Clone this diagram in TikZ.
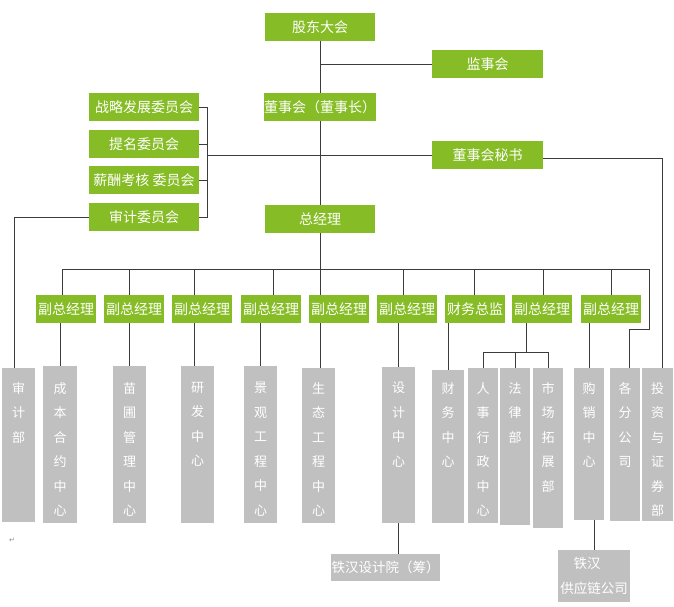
\documentclass[tikz,border=0pt]{standalone}
\usepackage{fontspec}
\setmainfont{Noto Sans CJK SC}
\newfontfamily\symfont{DejaVu Sans}
\usetikzlibrary{calc}
\definecolor{boxgreen}{HTML}{86BC25}
\definecolor{boxgray}{HTML}{C0C0C0}
\definecolor{linegray}{HTML}{3C3C3C}
\begin{document}
\begin{tikzpicture}[x=1pt,y=-1pt,
  gbox/.style={fill=boxgreen, text=white, inner sep=0pt, minimum height=28pt, font=\fontsize{14}{16}\selectfont},
  graybox/.style={fill=boxgray, inner sep=0pt, anchor=north west},
  vtext/.style={anchor=north, align=center, text=white, inner sep=0pt, font=\fontsize{13}{24.5}\selectfont},
  conn/.style={draw=linegray, line width=0.9pt}]
\useasboundingbox (0,0) rectangle (674,607);
\fill[white] (0,0) rectangle (674,607);

% top level green boxes
\node[gbox, minimum width=110pt] (gd) at (320,27) {股东大会};
\node[gbox, minimum width=111pt] (js) at (487.5,64) {监事会};
\node[gbox, minimum width=110pt] (dsh) at (320,107) {董事会（董事长）};
\node[gbox, minimum width=110pt] (c1) at (144,107) {战略发展委员会};
\node[gbox, minimum width=110pt] (c2) at (144,144) {提名委员会};
\node[gbox, minimum width=110pt] (c3) at (144,180) {薪酬考核 委员会};
\node[gbox, minimum width=110pt] (c4) at (144,217) {审计委员会};
\node[gbox, minimum width=111pt] (ms) at (487.5,155) {董事会秘书};
\node[gbox, minimum width=110pt] (zjl) at (320,219) {总经理};

% vice presidents
\node[gbox, minimum width=60pt] (vp1) at (66,309) {副总经理};
\node[gbox, minimum width=60pt] (vp2) at (134,309) {副总经理};
\node[gbox, minimum width=60pt] (vp3) at (202,309) {副总经理};
\node[gbox, minimum width=60pt] (vp4) at (271,309) {副总经理};
\node[gbox, minimum width=60pt] (vp5) at (339,309) {副总经理};
\node[gbox, minimum width=60pt] (vp6) at (407,309) {副总经理};
\node[gbox, minimum width=60pt] (vp7) at (475,309) {财务总监};
\node[gbox, minimum width=60pt] (vp8) at (542,309) {副总经理};
\node[gbox, minimum width=60pt] (vp9) at (611,309) {副总经理};

% gray departments
\node[graybox, minimum width=33pt, minimum height=154pt] (sjb) at (2,368) {};
\node[graybox, minimum width=34pt, minimum height=157pt] (cb) at (43,366) {};
\node[graybox, minimum width=33pt, minimum height=157pt] (mp) at (113,366) {};
\node[graybox, minimum width=33pt, minimum height=157pt] (yf) at (181,366) {};
\node[graybox, minimum width=33pt, minimum height=157pt] (jg) at (244,366) {};
\node[graybox, minimum width=33pt, minimum height=155pt] (st) at (302,368) {};
\node[graybox, minimum width=33pt, minimum height=156pt] (sj) at (382,367) {};
\node[graybox, minimum width=32pt, minimum height=153pt] (cw) at (432,370) {};
\node[graybox, minimum width=30pt, minimum height=155pt] (rs) at (468,368) {};
\node[graybox, minimum width=30pt, minimum height=157pt] (fl) at (500,368) {};
\node[graybox, minimum width=30pt, minimum height=160pt] (sc) at (533,368) {};
\node[graybox, minimum width=30pt, minimum height=152pt] (gx) at (574,368) {};
\node[graybox, minimum width=30pt, minimum height=153pt] (fg) at (610,368) {};
\node[graybox, minimum width=31pt, minimum height=153pt] (tz) at (642,368) {};

\node[vtext] (sjbt) at ($(sjb.north)+(0,14)$) {审\\计\\部};
\node[vtext] (cbt) at ($(cb.north)+(0,16)$) {成\\本\\合\\约\\中\\心};
\node[vtext] (mpt) at ($(mp.north)+(0,16)$) {苗\\圃\\管\\理\\中\\心};
\node[vtext] (yft) at ($(yf.north)+(0,16)$) {研\\发\\中\\心};
\node[vtext] (jgt) at ($(jg.north)+(0,16)$) {景\\观\\工\\程\\中\\心};
\node[vtext] (stt) at ($(st.north)+(0,14)$) {生\\态\\工\\程\\中\\心};
\node[vtext] (sjt) at ($(sj.north)+(0,15)$) {设\\计\\中\\心};
\node[vtext] (cwt) at ($(cw.north)+(0,12)$) {财\\务\\中\\心};
\node[vtext] (rst) at ($(rs.north)+(0,14)$) {人\\事\\行\\政\\中\\心};
\node[vtext] (flt) at ($(fl.north)+(0,14)$) {法\\律\\部};
\node[vtext] (sct) at ($(sc.north)+(0,14)$) {市\\场\\拓\\展\\部};
\node[vtext] (gxt) at ($(gx.north)+(0,14)$) {购\\销\\中\\心};
\node[vtext] (fgt) at ($(fg.north)+(0,14)$) {各\\分\\公\\司};
\node[vtext] (tzt) at ($(tz.north)+(0,14)$) {投\\资\\与\\证\\券\\部};

% subsidiaries
\node[fill=boxgray, text=white, inner sep=0pt, minimum width=109pt, minimum height=27pt,
      font=\fontsize{13.5}{16}\selectfont] (ty1) at (385.5,567.5) {铁汉设计院（筹）};
\node[fill=boxgray, text=white, inner sep=0pt, minimum width=72pt, minimum height=52pt, align=center,
      font=\fontsize{13.5}{25}\selectfont] (ty2) at (594,576) {铁汉\hspace*{14pt}\\供应链公司};

\node[text=black!45, inner sep=0pt, font=\symfont\fontsize{7}{8}\selectfont] (mark) at (12,540) {↵};

% coordinates
\coordinate (bus) at (0,269);
\coordinate (brx) at (207,155);
\coordinate (sjx) at (14,0);
\coordinate (msr) at (662,158);
\coordinate (bend) at (649,329);
\coordinate (fgx) at (629,0);
\coordinate (b8) at (526,352);
\coordinate (d1) at (62,269);
\coordinate (d2) at (129,269);
\coordinate (d3) at (194,269);
\coordinate (d4) at (273,269);
\coordinate (d6) at (403,269);
\coordinate (d7) at (474,269);
\coordinate (d8) at (543,269);
\coordinate (d9) at (611,269);

% trunk
\draw[conn] (gd.south) -- (dsh.north);
\draw[conn] (dsh.south) -- (zjl.north);
\draw[conn] (zjl.south) -- (zjl.south |- vp5.north);
\draw[conn] (zjl.south |- vp5.south) -- (zjl.south |- st.north);
\draw[conn] (gd.south |- js.west) -- (js.west);

% committees bracket
\draw[conn] (c1.east) -- (c1.east -| brx) -- (c4.east -| brx) -- (c4.east);
\draw[conn] (c2.east) -- (c2.east -| brx);
\draw[conn] (c3.east) -- (c3.east -| brx);
\draw[conn] (brx) -- (ms.west);
\draw[conn] ([yshift=-3pt]ms.east) -- (msr) -- (msr |- tz.north);
\draw[conn] (c4.west) -- (c4.west -| sjx) -- (sjx |- sjb.north);

% bus
\draw[conn] (d1) -- (d1 -| bend) -- (bend) -- (bend -| fgx) -- (fgx |- fg.north);
\draw[conn] (d1) -- (d1 |- vp1.north);
\draw[conn] (d2) -- (d2 |- vp2.north);
\draw[conn] (d3) -- (d3 |- vp3.north);
\draw[conn] (d4) -- (d4 |- vp4.north);
\draw[conn] (d6) -- (d6 |- vp6.north);
\draw[conn] (d7) -- (d7 |- vp7.north);
\draw[conn] (d8) -- (d8 |- vp8.north);
\draw[conn] (d9) -- (d9 |- vp9.north);

% vp to departments
\draw[conn] (cb.north) -- (cb.north |- vp1.south);
\draw[conn] (mp.north) -- (mp.north |- vp2.south);
\draw[conn] ([xshift=-3pt]yf.north) -- ([xshift=-3pt]yf.north |- vp3.south);
\draw[conn] (jg.north) -- (jg.north |- vp4.south);
\draw[conn] (sj.north) -- (sj.north |- vp6.south);
\draw[conn] (cw.north) -- (cw.north |- vp7.south);
\draw[conn] (b8 |- vp8.south) -- (b8);
\draw[conn] (rs.north |- b8) -- (sc.north |- b8);
\draw[conn] (rs.north |- b8) -- (rs.north);
\draw[conn] (fl.north |- b8) -- (fl.north);
\draw[conn] (sc.north |- b8) -- (sc.north);
\draw[conn] (gx.north) -- (gx.north |- vp9.south);
\draw[conn] (sj.south) -- (sj.south |- ty1.north);
\draw[conn] (ty2.north) -- (ty2.north |- gx.south);
\end{tikzpicture}
\end{document}
